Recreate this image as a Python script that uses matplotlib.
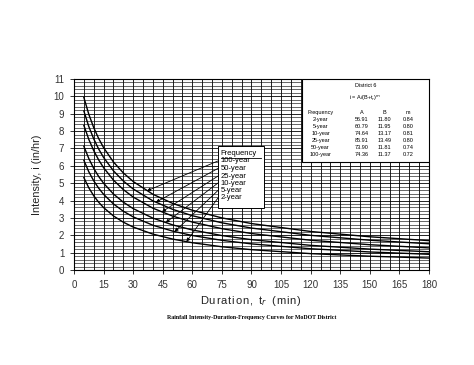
import matplotlib
matplotlib.use("Agg")
import matplotlib.pyplot as plt
from matplotlib.patches import Rectangle
from matplotlib.ticker import MultipleLocator

plt.rcParams['font.family'] = ['Liberation Sans', 'DejaVu Sans']

# Duration (min) and intensity (in/hr)
durations = [5, 7.5, 10, 12.5, 15, 20, 25, 30, 40, 50, 60, 75, 90, 120, 150, 180]
i_2yr   = [5.320, 4.735, 4.275, 3.902, 3.594, 3.113, 2.754, 2.474, 2.066, 1.781, 1.570, 1.339, 1.171, 0.943, 0.794, 0.688]
i_5yr   = [6.317, 5.658, 5.137, 4.712, 4.359, 3.804, 3.386, 3.059, 2.578, 2.240, 1.987, 1.708, 1.504, 1.223, 1.038, 0.906]
i_10yr  = [7.127, 6.421, 5.853, 5.387, 4.996, 4.377, 3.906, 3.536, 2.987, 2.598, 2.306, 1.983, 1.746, 1.420, 1.204, 1.050]
i_25yr  = [8.327, 7.524, 6.876, 6.341, 5.892, 5.177, 4.632, 4.201, 3.560, 3.104, 2.761, 2.380, 2.100, 1.713, 1.456, 1.273]
i_50yr  = [9.156, 8.264, 7.551, 6.969, 6.482, 5.712, 5.126, 4.666, 3.981, 3.494, 3.127, 2.717, 2.415, 1.995, 1.714, 1.511]
i_100yr = [9.936, 8.970, 8.201, 7.573, 7.049, 6.221, 5.592, 5.097, 4.361, 3.837, 3.442, 3.000, 2.674, 2.218, 1.913, 1.692]

freq_labels = ["100-year", "50-year", "25-year", "10-year", "5-year", "2-year"]
series = [i_100yr, i_50yr, i_25yr, i_10yr, i_5yr, i_2yr]

# Parameter table
tbl_freq = ["2-year", "5-year", "10-year", "25-year", "50-year", "100-year"]
tbl_A = ["56.91", "60.79", "74.64", "85.91", "73.90", "74.36"]
tbl_B = ["11.80", "11.95", "13.17", "13.49", "11.81", "11.37"]
tbl_m = ["0.84", "0.80", "0.81", "0.80", "0.74", "0.72"]

x_ticks = list(range(0, 181, 15))
y_ticks = list(range(0, 12))

fig = plt.figure(figsize=(4.74, 3.65), dpi=100)
ax = fig.add_axes([74/474, 1-270/365, 355/474, 191/365])

ax.set_xlim(0, 180)
ax.set_ylim(0, 11)
ax.set_xticks(x_ticks)
ax.set_yticks(y_ticks)
ax.xaxis.set_minor_locator(MultipleLocator(5))
ax.yaxis.set_minor_locator(MultipleLocator(0.2))
ax.grid(which='major', color='black', linewidth=0.6)
ax.grid(which='minor', axis='x', color='black', linewidth=0.6)
ax.grid(which='minor', axis='y', color='#111111', linewidth=0.45)
ax.tick_params(which='major', length=3, width=0.7, labelsize=7, colors='#333333', pad=4)
ax.tick_params(which='minor', length=0)
for s in ax.spines.values():
    s.set_linewidth(0.8)

for vals in series:
    ax.plot(durations, vals, color='black', linewidth=1.0, zorder=3)

# Parameter table box (covers grid at top right)
ax.add_patch(Rectangle((115.6, 6.22), 64.4, 4.78, facecolor='white',
                       edgecolor='black', linewidth=0.8, zorder=4))
tfs = 4
ax.text(147.8, 10.65, "District 6", fontsize=tfs, ha='center', va='center', zorder=5)
ax.text(147.8, 9.9, "i = A/(B+t$_r$)$^m$", fontsize=tfs, ha='center', va='center', zorder=5)
col_x = [125.0, 146.0, 157.5, 169.5]
row_y0 = 9.05
dy = 0.40
ax.text(col_x[0], row_y0, "Frequency", fontsize=tfs, ha='center', va='center', zorder=5)
ax.text(col_x[1], row_y0, "A", fontsize=tfs, ha='center', va='center', zorder=5)
ax.text(col_x[2], row_y0, "B", fontsize=tfs, ha='center', va='center', zorder=5)
ax.text(col_x[3], row_y0, "m", fontsize=tfs, ha='center', va='center', zorder=5)
for k in range(6):
    yy = row_y0 - (k + 1) * dy
    ax.text(col_x[0], yy, tbl_freq[k], fontsize=tfs, ha='center', va='center', zorder=5)
    ax.text(col_x[1], yy, tbl_A[k], fontsize=tfs, ha='center', va='center', zorder=5)
    ax.text(col_x[2], yy, tbl_B[k], fontsize=tfs, ha='center', va='center', zorder=5)
    ax.text(col_x[3], yy, tbl_m[k], fontsize=tfs, ha='center', va='center', zorder=5)

# Frequency legend box
ax.add_patch(Rectangle((73.0, 3.57), 23.3, 3.57, facecolor='white',
                       edgecolor='black', linewidth=0.7, zorder=4))
ax.text(74.3, 6.70, "Frequency", fontsize=5.5, ha='left', va='center', zorder=5)
ax.plot([74.3, 94.6], [6.45, 6.45], color='black', linewidth=0.6, zorder=5)
label_y = [6.28, 5.85, 5.41, 5.01, 4.58, 4.15]
tips = [(37, 4.56), (41.5, 3.90), (44.6, 3.35), (46.5, 2.73), (51, 2.21), (57, 1.63)]
for lab, ly, tip in zip(freq_labels, label_y, tips):
    ax.text(74.3, ly, lab, fontsize=5.5, ha='left', va='center', zorder=5)
    ax.annotate("", xy=tip, xytext=(73.0, ly),
                arrowprops=dict(arrowstyle='-|>', color='black', lw=0.6,
                                mutation_scale=5, shrinkA=0, shrinkB=0), zorder=5)

ax.set_xlabel("D\u200au\u200ar\u200aa\u200at\u200ai\u200ao\u200an\u200a,  t$_r$  (\u200am\u200ai\u200an\u200a)",
              fontsize=8, labelpad=3, color='#222222')
ax.set_ylabel("Intensity, i (in/hr)", fontsize=7.8, labelpad=8, color='#222222')

fig.text(0.532, 1-318/365, "Rainfall Intensity-Duration-Frequency Curves for MoDOT District",
         fontsize=4.2, fontweight='bold', family='Liberation Serif', ha='center', va='center')

fig.savefig("out.png", dpi=100)
